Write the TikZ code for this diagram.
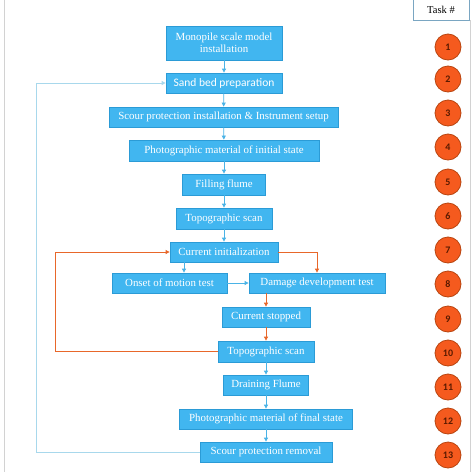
\documentclass[tikz,border=0pt]{standalone}
\usepackage{fontspec}
\setmainfont{Liberation Serif}
\newfontfamily\calib{Carlito}
\usetikzlibrary{arrows.meta}
\definecolor{boxfill}{HTML}{41B6F0}
\definecolor{boxedge}{HTML}{2B9BD6}
\definecolor{bluearr}{HTML}{4AB3E6}
\definecolor{orangearr}{HTML}{E8672A}
\definecolor{loopblue}{HTML}{A8D8EC}
\definecolor{taskfill}{HTML}{F55A1E}
\definecolor{taskedge}{HTML}{B8440F}
\definecolor{tasktext}{HTML}{5A1A00}
\definecolor{framegray}{HTML}{D2D2D2}
\definecolor{taskbox}{HTML}{7AA6C2}
\begin{document}
\begin{tikzpicture}[x=1pt,y=-1pt,
  box/.style={draw=boxedge, fill=boxfill, line width=0.8pt, text=white, inner sep=0pt, align=center, font=\fontsize{10.9}{12.5}\selectfont},
  task/.style={circle, draw=taskedge, fill=taskfill, line width=0.8pt, minimum size=26pt, inner sep=0pt, text=tasktext, font=\calib\bfseries\fontsize{10}{11}\selectfont},
  barr/.style={draw=bluearr, line width=0.8pt, -{Triangle[length=4pt,width=4pt]}},
  oarr/.style={draw=orangearr, line width=0.8pt, -{Triangle[length=4pt,width=4pt]}},
  larr/.style={draw=loopblue, line width=1pt, -{Triangle[length=4pt,width=4pt]}}]
\useasboundingbox (0,0) rectangle (474,474);
\fill[white] (0,0) rectangle (474,474);
% frame
\draw[framegray, line width=0.8pt] (4.5,0) -- (4.5,472);
\draw[framegray, line width=0.8pt] (470,20) -- (470,472);
\node[draw=taskbox, fill=white, line width=0.8pt, minimum width=56pt, minimum height=21pt, inner sep=0pt, font=\fontsize{10.5}{11}\selectfont] (taskhead) at (441,10) {Task \#};
% boxes
\node[box, minimum width=116pt, minimum height=34pt] (n1) at (224,43) {Monopile scale model\\installation};
\node[box, minimum width=116pt, minimum height=20pt, font=\calib\fontsize{11.5}{12}\selectfont] (n2) at (224,83) {Sand bed preparation};
\node[box, minimum width=229pt, minimum height=20pt] (n3) at (223.5,117) {Scour protection installation \& Instrument setup};
\node[box, minimum width=190pt, minimum height=21pt] (n4) at (224,150.5) {Photographic material of initial state};
\node[box, minimum width=83pt, minimum height=21pt] (n5) at (224,184.5) {Filling flume};
\node[box, minimum width=96pt, minimum height=21pt] (n6) at (224,218.5) {Topographic scan};
\node[box, minimum width=108pt, minimum height=20pt] (n7) at (224,252) {Current initialization};
\node[box, minimum width=115pt, minimum height=20pt] (n8a) at (169.5,283) {Onset of motion test};
\node[box, minimum width=136pt, minimum height=20pt] (n8b) at (317,283) {Damage development test};
\node[box, minimum width=88pt, minimum height=20pt] (n9) at (266,317) {Current stopped};
\node[box, minimum width=96pt, minimum height=21pt] (n10) at (266,351.5) {Topographic scan};
\node[box, minimum width=85pt, minimum height=20pt] (n11) at (266,385) {Draining Flume};
\node[box, minimum width=173pt, minimum height=20pt] (n12) at (266,419) {Photographic material of final state};
\node[box, minimum width=132pt, minimum height=20pt] (n13) at (266,452) {Scour protection removal};
% task circles
\node[task] (t1) at (448,47) {1};
\node[task] (t2) at (448,79) {2};
\node[task] (t3) at (448,113) {3};
\node[task] (t4) at (448,147) {4};
\node[task] (t5) at (448,182) {5};
\node[task] (t6) at (448,216) {6};
\node[task] (t7) at (448,250) {7};
\node[task] (t8) at (448,284) {8};
\node[task] (t9) at (448,319) {9};
\node[task] (t10) at (448,353) {10};
\node[task] (t11) at (448,387) {11};
\node[task] (t12) at (448,421) {12};
\node[task] (t13) at (448,455) {13};
% blue main flow
\draw[barr] (n1) -- (n2);
\draw[barr] (n2) -- (n3);
\draw[barr] (n3) -- (n4);
\draw[barr] (n4) -- (n5);
\draw[barr] (n5) -- (n6);
\draw[barr] (n6) -- (n7);
\coordinate (c7a) at (184,262);
\draw[barr] (c7a) -- (c7a |- n8a.north);
\draw[barr] (n8a) -- (n8b);
\draw[barr] (n10) -- (n11);
\draw[barr] (n11) -- (n12);
\draw[barr] (n12) -- (n13);
% orange flow
\draw[oarr] (n7.east) -| (n8b.north);
\draw[oarr] (n8b.south -| n9.north) -- (n9.north);
\draw[oarr] (n9) -- (n10);
\coordinate (lo) at (55,351.5);
\draw[oarr] (n10.west) -- (lo) |- (n7.west);
% light blue loop
\coordinate (lb) at (36,452);
\draw[larr] (n13.west) -- (lb) |- (n2.west);
\end{tikzpicture}
\end{document}
